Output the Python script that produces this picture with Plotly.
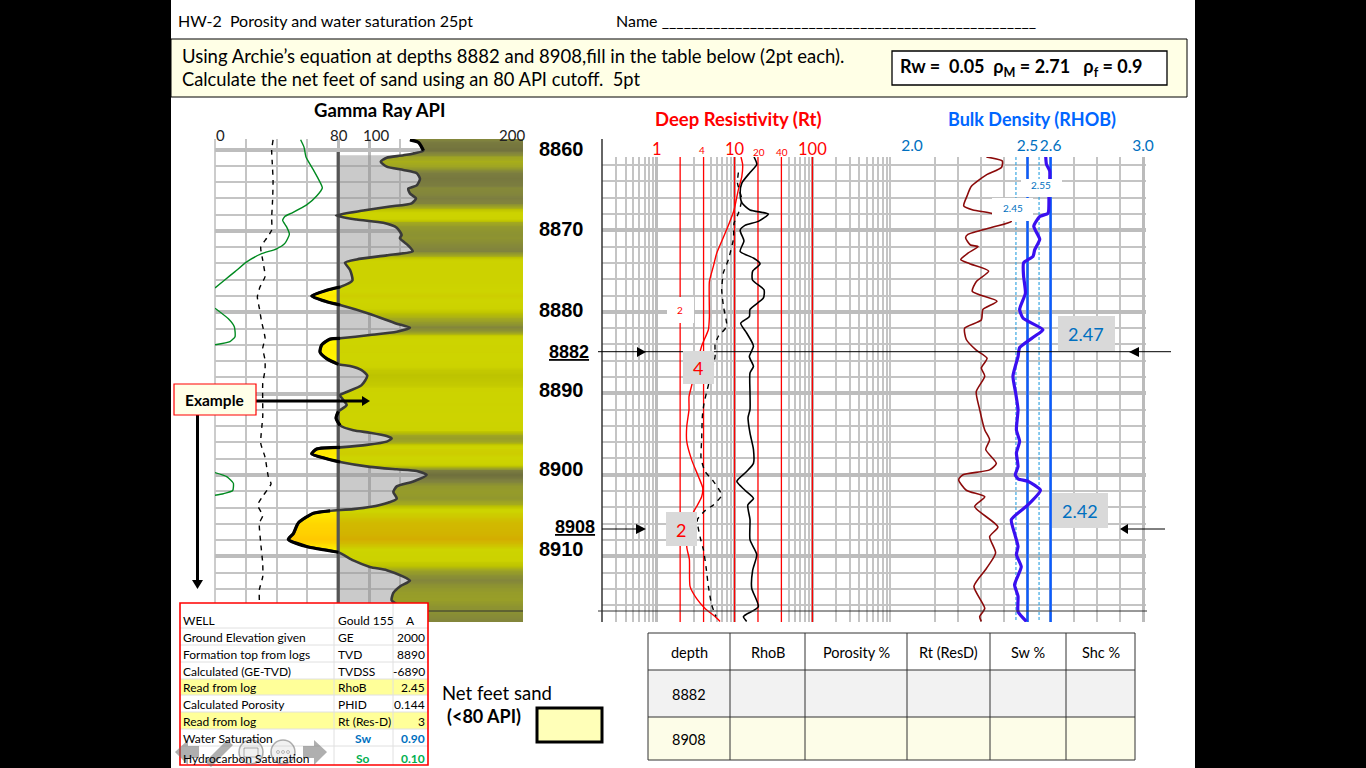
import numpy as np
import plotly.graph_objects as go

W, H = 1366, 768

# ---------- data ----------
GR_DEPTH = [8858.8,8859.1,8860.1,8860.7,8861.0,8861.5,8862.1,8862.5,8862.9,8863.6,8864.4,8864.8,8865.4,8866.0,8866.6,8867.0,8867.5,8868.1,8868.6,8869.0,8869.6,8870.5,8870.9,8871.8,8872.5,8873.0,8873.5,8873.9,8874.8,8876.1,8876.9,8877.3,8878.0,8878.7,8879.1,8880.2,8881.4,8881.9,8882.4,8882.8,8883.2,8883.3,8884.0,8884.9,8885.7,8886.4,8886.6,8887.1,8887.8,8888.95,8889.8,8890.2,8891.4,8892.2,8893.0,8893.9,8894.5,8894.8,8895.2,8895.5,8895.9,8896.3,8896.6,8896.8,8897.4,8898.0,8898.4,8899.0,8899.3,8899.5,8900.0,8900.8,8901.4,8902.1,8902.9,8903.7,8904.2,8904.4,8904.7,8905.9,8907.2,8907.9,8908.8,8909.5,8910.5,8911.3,8911.7,8912.5,8913.0,8913.7,8914.5,8915.4,8916.2,8917.0,8917.9]
GR_API = [126.6,132,135.3,122.3,111.5,107.6,111.5,122.3,131,133.1,131,125.5,126.6,130.5,127.7,113.6,96.3,78.6,92,109.3,118,121.2,120.1,125.5,128.4,111.5,92,84.4,87.7,89.2,81.2,72.5,62.8,72.5,81.2,100.6,118,126.6,118,100.6,81.2,74.7,69.3,68.2,72.5,80.1,87.7,95.2,98.9,95.2,85.5,81.2,85.5,80.1,78.6,81.2,89.8,100.6,111.5,114.7,111.5,98.5,81.2,66,62.8,72.5,81.2,100.6,118,131,137.4,128.8,118,115.8,118,107.1,89.8,74.7,63.9,54.1,50.9,47.6,59.5,80.1,89.8,100.6,111.5,122.3,126.6,120.1,115.8,114.7,120.1,122.3,126.6]

SP_DEPTH = [8858.8,8859.7,8860.9,8862.5,8863.6,8864.7,8865.7,8866.8,8867.8,8868.2,8868.7,8869.5,8870.4,8871.5,8872.2,8872.8,8873.8,8875.0,8876.0,8877.0,None,8879.5,8880.8,8881.8,8883.0,8883.6,8884.0,None,8899.7,8900.2,8901.0,8901.9,8902.3,8902.5]
SP_VAL = [55.6,57.8,59.1,63.9,67.1,69.7,66,59.5,49.8,45.5,43.9,46.5,48.3,45.5,40,30.3,20.6,13,6.5,0,None,0,8.7,12.6,13,9.7,0,None,0,7.6,11.9,11.5,5.4,0]

CAL_DEPTH = [8858.8,8860.1,8861.7,8863.8,8866.2,8868.3,8869.9,8870.9,8872.0,8873.6,8875.6,8876.9,8878.1,8879.5,8881,8883.2,8884.4,8885.9,8887.1,8888.75,8892.8,8896.1,8897.8,8900.2,8901.1,8902.5,8903.7,8905,8905.9,8908.4,8910.9,8912.5,8914.1,8915.4]
CAL_VAL = [37.7,36.8,37.2,37.7,37.4,36.8,36.8,33.5,29.7,31,32.5,29.2,27.5,28.8,30.1,32.5,31,32.5,32.5,31,31,29.7,32.5,34.6,36.4,31.4,27.7,31,28.8,29.7,31,31,28.8,28.8]

RT_DEEP_DEPTH = [8861.0,8861.9,8862.9,8864.2,8865.4,8866.6,8867.5,8868.0,8868.9,8869.4,8870.0,8871.3,8872.6,8873.4,8874.1,8875.0,8876.1,8877.3,8878.3,8879.7,8880.6,8881.4,8882.6,8884.2,8885.5,8886.7,8887.5,8890.0,8892.0,8893.0,8894.9,8896.9,8898.6,8899.6,8900.8,8901.9,8902.9,8903.7,8905.5,8908,8909.8,8911.7,8913.9,8916.2,8917.4,8918.0]
RT_DEEP = [17.8,19.3,15.8,12.4,11.8,12.4,15.8,27.2,20.2,13.6,11.8,13.2,11.8,17.5,21.3,17.1,17.0,23.9,23.5,15.8,15.5,12.0,14.3,17.5,15.5,17.5,15.8,15.8,15.8,14.9,15.8,17.5,17.5,14.3,10.7,13.6,17.5,14.8,15.8,15.8,19.3,17.1,16.6,20.2,13.0,14.3]

RT_RED_DEPTH = [8861.0,8861.9,8863.4,8865.0,8867.5,8869.9,8872.8,8874.4,8876.3,8880.6,8882.2,8884.2,8889.0,8890.4,8892.0,8894.1,8895.9,8898.2,8900.2,8901.6,8902.7,8903.9,8904.6,8908.8,8910.4,8913.7,8915.2,8916.4,8917.4,8918.0]
RT_RED = [12.1,12.7,12.4,11.2,9.86,7.93,5.90,5.35,4.75,4.75,4.61,3.78,2.82,2.60,2.60,2.43,2.43,2.82,3.43,3.90,3.78,3.26,2.96,2.43,2.63,2.68,3.26,4.18,5.62,6.51]

RT_DASH_DEPTH = [8862.9,8864.2,8866.2,8867.9,8869.1,8871.1,8873.6,8875.2,8877.3,8879.3,8881.8,8883.0,8884.0,8885.5,8891.2,8892.8,8895.7,8898.0,8899.6,8900.8,8902.5,8903.7,8904.4,8905.5,8907.6,8909.2,8911.3,8913.7,8916.0,8917.4]
RT_DASH = [11.2,10.9,12.4,11.2,9.86,9.66,8.33,7.19,6.84,7.19,7.93,6.2,5.62,5.62,4.06,3.86,3.78,3.71,4.18,5.35,6.84,5.35,4.18,3.33,3.6,3.98,4.3,4.61,5.09,5.79]

RHOB_DEPTH = [8861.0,8861.9,8862.7,8865.8,8867.9,8868.3,8869.5,8871.1,8872.4,8873.2,8874.0,8875.6,8877.7,8879.7,8880.8,8882.2,8883.0,8884.4,8885.5,8887.9,8890.0,8892.0,8894.5,8895.9,8897.3,8899.0,8900.0,8900.5,8900.8,8901.9,8903.7,8905.5,8907.2,8908.8,8909.8,8911.3,8913.5,8914.9,8916.8,8918.0]
RHOB = [2.579,2.582,2.596,2.593,2.589,2.553,2.527,2.553,2.531,2.524,2.483,2.483,2.491,2.466,2.481,2.567,2.531,2.466,2.459,2.437,2.449,2.459,2.452,2.466,2.452,2.459,2.447,2.459,2.502,2.556,2.502,2.43,2.444,2.459,2.452,2.473,2.444,2.459,2.459,2.495]

PHI_DEPTH = [8861.0,8861.5,8862.3,8863.2,8864.6,8865.8,8867.0,8867.5,8867.9,8868.9,8869.6,8870.5,8870.9,8871.8,8872.0,8872.8,8873.6,8874.1,8875.0,8876.3,8877.5,8878.7,8879.7,8881.0,8882.0,8883.4,8884.7,8885.7,8886.9,8887.9,8889.8,8892.0,8894.5,8895.7,8896.9,8898.6,8899.4,8900.0,8900.6,8901.9,8902.7,8903.9,8906.4,8907.6,8909.6,8911.5,8913.7,8916.4,8917.4,8918.0]
PHI = [2.322,2.391,2.387,2.322,2.257,2.238,2.224,2.264,2.343,2.43,2.351,2.242,2.232,2.253,2.286,2.242,2.211,2.25,2.332,2.278,2.261,2.368,2.307,2.3,2.228,2.235,2.278,2.325,2.3,2.315,2.278,2.293,2.315,2.336,2.319,2.365,2.336,2.221,2.202,2.235,2.315,2.271,2.372,2.336,2.362,2.322,2.268,2.315,2.293,2.3]

GR_LABELS = [0, 80, 100, 200]
GR_LABEL_CENTRES = [220, 339, 376, 512]
GR_GRID = [20, 40, 60, 120, 140, 160, 180]
RES_LABELS = [1, 10, 100]
RES_GRID = [0.3,0.4,0.5,0.6,0.7,0.8,0.9,3,5,6,7,8,9,50,60,70,80,90,200,300,400,500,600,700,800,900,1000]
RES_GUIDES = [2, 4, 10, 20, 40, 100]
RHO_LABELS = [2.0, 2.5, 2.6, 3.0]
RHO_GRID = [2.1,2.2,2.3,2.4,2.5,2.6,2.7,2.8,2.9]
RHO_SOLID = [2.5, 2.6]
RHO_DASHED = [2.45, 2.55]
CUTOFF = 80

DEPTH_LABELS = [("8860",149),("8870",229),("8880",310),("8890",390),("8900",469),("8910",549)]
Q_HEAD = ["depth","RhoB","Porosity %","Rt (ResD)","Sw %","Shc %"]
Q_ROWS = ["8882","8908"]
WELL_ROWS = [("WELL","Gould 155","A"),("Ground Elevation given","GE","2000"),("Formation top from logs","TVD","8890"),
             ("Calculated (GE-TVD)","TVDSS","-6890"),("Read from log","RhoB","2.45"),("Calculated Porosity","PHID","0.144"),
             ("Read from log","Rt (Res-D)","3"),("Water Saturation","Sw","0.90"),("Hydrocarbon Saturation","So","0.10")]

# ---------- helpers ----------
FONT = "Lato"
def px(x): return x / W
def py(y): return 1 - y / H
shapes, annos = [], []
def rect(x0, y0, x1, y1, fill=None, line=None, lw=1, layer="above"):
    shapes.append(dict(type="rect", xref="paper", yref="paper", x0=px(x0), x1=px(x1), y0=py(y0), y1=py(y1),
                       fillcolor=fill or "rgba(0,0,0,0)", line=dict(color=line or "rgba(0,0,0,0)", width=lw if line else 0), layer=layer))
def seg(x0, y0, x1, y1, color="black", lw=1, layer="above"):
    shapes.append(dict(type="line", xref="paper", yref="paper", x0=px(x0), x1=px(x1), y0=py(y0), y1=py(y1),
                       line=dict(color=color, width=lw), layer=layer))
def poly(pts, fill="black", line=None, lw=0):
    path = "M " + " L ".join(f"{px(a):.5f},{py(b):.5f}" for a, b in pts) + " Z"
    shapes.append(dict(type="path", xref="paper", yref="paper", path=path, fillcolor=fill,
                       line=dict(color=line or "rgba(0,0,0,0)", width=lw), layer="above"))
def text(s, x, y, size=14, color="black", bold=False, anchor="left", family=FONT):
    annos.append(dict(text=f"<b>{s}</b>" if bold else s, x=px(x), y=py(y), xref="paper", yref="paper", showarrow=False,
                      xanchor=anchor, yanchor="middle", font=dict(size=size, color=color, family=family),
                      borderpad=0, align=anchor))

# ---------- slide furniture ----------
rect(171, 0, 1195, 768, "white", layer="below")
text("HW-2  Porosity and water saturation 25pt", 177, 20.5, 16)
text("Name " + "_" * 51, 615, 20.5, 16)
rect(171, 39, 1187, 97, "#ffffe6", "black", 1, "below")
text("Using Archie\u2019s equation at depths 8882 and 8908,fill in the table below (2pt each).", 181, 56, 18.5)
text("Calculate the net feet of sand using an 80 API cutoff.  5pt", 181, 79, 18.3)
rect(892, 51, 1167, 85, "white", "black", 1.3, "below")
text("Rw =  0.05  \u03c1<sub>M</sub> = 2.71   \u03c1<sub>f</sub> = 0.9", 1021, 68, 18, bold=True, anchor="center")
text("Gamma Ray API", 380, 110, 18.5, bold=True, anchor="center")
text("Deep Resistivity (Rt)", 738, 119, 18.5, "#ff0000", True, "center")
text("Bulk Density (RHOB)", 1032, 119, 18, "#0066ff", True, "center")
for v, c in zip(GR_LABELS, GR_LABEL_CENTRES):
    text(str(v), c, 135, 15, "#222222", anchor="center")

for s, y in DEPTH_LABELS:
    text(s, 561, y, 20, bold=True, anchor="center", family="Liberation Sans")
text("<u>8882</u>", 569, 352, 18, bold=True, anchor="center", family="Liberation Sans")
text("<u>8908</u>", 575, 527, 18, bold=True, anchor="center", family="Liberation Sans")

# axis stubs and pointers
seg(215, 139, 215, 622, "#bbbbbb", 1.5, "below")
seg(602, 139, 602, 622, "#333333", 1.5)
seg(215, 611, 523, 611, "#333333", 1)
seg(598, 611, 1147, 611, "#333333", 1)
seg(598, 351.7, 1171, 351.7, "black", 1)
seg(602, 529, 640, 529, "black", 1)
seg(1165, 529, 1125, 529, "black", 1)
poly([(637, 347), (637, 357), (646, 352)])
poly([(1139, 347), (1139, 357), (1129, 352)])
poly([(636, 524), (636, 534), (646, 529)])
poly([(1128, 524), (1128, 534), (1120, 529)])

# grey value call-outs and white masks
rect(667, 297, 694, 323, "white")
text("2", 680, 310, 10, "#ff0000", anchor="center")
rect(1021, 179, 1062, 197, "white")
text("2.55", 1041, 185, 10, "#0070c0", anchor="center")
rect(992, 198, 1033, 221, "white")
text("2.45", 1013, 208, 10, "#0070c0", anchor="center")
rect(683, 351, 714, 384, "#d9d9d9")
text("4", 698, 368, 18, "#ff0000", anchor="center")
rect(666, 512, 697, 546, "#d9d9d9")
text("2", 681, 530, 18, "#ff0000", anchor="center")
rect(1058, 316, 1115, 351, "#d9d9d9")
text("2.47", 1086, 334, 18, "#0070c0", anchor="center")
rect(1052, 493, 1108, 528, "#d9d9d9")
text("2.42", 1080, 511, 18, "#0070c0", anchor="center")

# Example call-out
seg(256, 401, 362, 401, "black", 3)
poly([(362, 396), (362, 406), (370, 401)])
seg(197.5, 415, 197.5, 580, "black", 3)
poly([(192, 580), (203, 580), (197.5, 589)])
rect(174, 384, 256, 415, "#ffffe8", "#ff0000", 1.2)
text("Example", 214, 400, 15.5, bold=True, anchor="center")

# question table
qx = [648, 730, 805, 907, 990, 1066, 1135]
qy = [633, 670, 717, 760]
rect(qx[0], qy[0], qx[-1], qy[1], "white", layer="below")
rect(qx[0], qy[1], qx[-1], qy[2], "#f2f2f2", layer="below")
rect(qx[0], qy[2], qx[-1], qy[3], "#fdfde8", layer="below")
for v in qx: seg(v, qy[0], v, qy[-1], "#333333", 1, "below")
for v in qy: seg(qx[0], v, qx[-1], v, "#333333", 1, "below")
for i, s in enumerate(Q_HEAD):
    text(s, (qx[i] + qx[i + 1]) / 2, 652, 14.5, anchor="center")
for s, y in zip(Q_ROWS, [694, 739]):
    text(s, 689, y, 14.5, anchor="center")

# net feet
text("Net feet sand", 441, 693, 18.5)
text("(&lt;80 API)", 446, 716, 18, bold=True)
rect(537, 708, 602, 742, "#ffffb8", "black", 3, "below")

# well table
wy = [603, 628, 645, 662, 679, 695, 712, 729, 746, 765]
rect(180, 603, 428, 765, "white")
rect(181, wy[4], 427, wy[5], "#ffff99")
rect(181, wy[6], 427, wy[7], "#ffff99")
for v in wy[1:-1]: seg(180, v, 428, v, "#e0e0e0", 1)
for v in (334, 393): seg(v, 603, v, 765, "#e0e0e0", 1)
rect(180, 603, 428, 765, None, "#ff0000", 1.6)
wc = [620, 637, 654, 671, 687, 704, 721, 738, 758]
for i, (a, b, c) in enumerate(WELL_ROWS):
    text(a, 182, wc[i], 12)
    if b == "Sw":
        text(b, 363, wc[i], 12, "#0070c0", True, "center")
        text(c, 426, wc[i], 12, "#0070c0", True, "right")
    elif b == "So":
        text(b, 363, wc[i], 12, "#00b050", True, "center")
        text(c, 426, wc[i], 12, "#00b050", True, "right")
    else:
        text(b, 337, wc[i], 12)
        text(c, 410 if c == "A" else 426, wc[i], 12, anchor="center" if c == "A" else "right")

# player overlay icons
G = "rgba(110,110,110,0.55)"
poly([(175, 752), (188, 740), (188, 746), (199, 746), (199, 758), (188, 758), (188, 765)], G)
poly([(205, 762), (227, 740), (233, 745), (211, 767)], G)
poly([(303, 746), (314, 746), (314, 740), (327, 752), (314, 765), (314, 758), (303, 758)], G)
for cx in (251, 283):
    shapes.append(dict(type="circle", xref="paper", yref="paper", x0=px(cx - 12), x1=px(cx + 12), y0=py(740), y1=py(764),
                       line=dict(color=G, width=1.5), fillcolor="rgba(200,200,200,0.25)", layer="above"))
rect(244, 748, 258, 757, None, G, 1)
for dx in (-5, 0, 5):
    shapes.append(dict(type="circle", xref="paper", yref="paper", x0=px(283 + dx - 1.5), x1=px(283 + dx + 1.5), y0=py(750.5), y1=py(753.5),
                       line=dict(color=G, width=0.8), fillcolor="rgba(0,0,0,0)", layer="above"))

# ---------- traces ----------
GR_TOP, GR_BOT = 8858.7, 8918.07
RES_TOP = 8861.0
gd = np.array(GR_DEPTH); ga = np.array(GR_API)
rows = np.arange(GR_TOP, GR_BOT + 0.1, 0.1)
row_gr = np.interp(rows, gd, ga)
xs_hi = np.arange(80, 201, 1.0)
xs_lo = np.arange(44, 81, 1.0)
z_hi = np.array([[g if x >= max(g, CUTOFF) else np.nan for x in xs_hi] for g in row_gr])
z_lo = np.array([[g if (g <= x <= CUTOFF) else np.nan for x in xs_lo] for g in row_gr])

HI_SCALE = [[0, "#d4ac00"], [0.09, "#d0bc00"], [0.165, "#cdcc00"], [0.25, "#cdd400"], [0.47, "#ccd200"],
            [0.58, "#bcc200"], [0.69, "#a2a820"], [0.80, "#8e9430"], [0.91, "#7e8040"], [1, "#6c6c3c"]]
LO_SCALE = [[0, "#ffc800"], [0.4, "#ffe400"], [1, "#ffff00"]]
traces = []
traces.append(go.Heatmap(x=xs_hi, y=rows, z=z_hi, zmin=47, zmax=138, colorscale=HI_SCALE, showscale=False, hoverinfo="skip", xaxis="x", yaxis="y"))
traces.append(go.Heatmap(x=xs_lo, y=rows, z=z_lo, zmin=47, zmax=80, colorscale=LO_SCALE, showscale=False, hoverinfo="skip", xaxis="x", yaxis="y"))

gray = gd >= 8860.3
fx = np.maximum(ga[gray], CUTOFF)
traces.append(go.Scatter(x=np.r_[CUTOFF, fx, CUTOFF], y=np.r_[gd[gray][0], gd[gray], gd[gray][-1]], mode="lines", fill="toself",
                         fillcolor="rgba(150,150,150,0.5)", line=dict(width=0), hoverinfo="skip", xaxis="x", yaxis="y"))
traces.append(go.Scatter(x=[CUTOFF, CUTOFF], y=[8860.3, GR_BOT], mode="lines", line=dict(color="#555555", width=3.2), xaxis="x", yaxis="y"))
traces.append(go.Scatter(x=SP_VAL, y=SP_DEPTH, mode="lines", line=dict(color="#008a20", width=1.4, shape="spline", smoothing=0.5), xaxis="x", yaxis="y"))
traces.append(go.Scatter(x=CAL_VAL, y=CAL_DEPTH, mode="lines", line=dict(color="black", width=1.4, dash="5px,5px", shape="spline", smoothing=0.5), xaxis="x", yaxis="y"))
traces.append(go.Scatter(x=ga, y=gd, mode="lines", line=dict(color="#3a3a3a", width=2.6, shape="spline", smoothing=0.6), xaxis="x", yaxis="y"))
lowmask = (ga <= 82) | (gd < 8860.5)
traces.append(go.Scatter(x=np.where(lowmask, ga, np.nan), y=gd, mode="lines", line=dict(color="black", width=3.2, shape="spline", smoothing=0.6), connectgaps=False, xaxis="x", yaxis="y"))

for v in RES_GUIDES:
    traces.append(go.Scatter(x=[v, v], y=[RES_TOP, GR_BOT], mode="lines", line=dict(color="#ff0000", width=1.3), xaxis="x2", yaxis="y2"))
traces.append(go.Scatter(x=RT_RED, y=RT_RED_DEPTH, mode="lines", line=dict(color="#ff0000", width=1.4, shape="spline", smoothing=0.5), xaxis="x2", yaxis="y2"))
traces.append(go.Scatter(x=RT_DASH, y=RT_DASH_DEPTH, mode="lines", line=dict(color="black", width=1.4, dash="5px,5px", shape="spline", smoothing=0.5), xaxis="x2", yaxis="y2"))
traces.append(go.Scatter(x=RT_DEEP, y=RT_DEEP_DEPTH, mode="lines", line=dict(color="black", width=1.6, shape="spline", smoothing=0.6), xaxis="x2", yaxis="y2"))

for v in RHO_DASHED:
    traces.append(go.Scatter(x=[v, v], y=[RES_TOP, GR_BOT], mode="lines", line=dict(color="#2aa0e0", width=1.1, dash="3px,2px"), xaxis="x3", yaxis="y3"))
for v in RHO_SOLID:
    traces.append(go.Scatter(x=[v, v], y=[RES_TOP, GR_BOT], mode="lines", line=dict(color="#0a5cff", width=2.4), xaxis="x3", yaxis="y3"))
traces.append(go.Scatter(x=PHI, y=PHI_DEPTH, mode="lines", line=dict(color="#8b0a0a", width=1.6, shape="spline", smoothing=0.6), xaxis="x3", yaxis="y3"))
traces.append(go.Scatter(x=RHOB, y=RHOB_DEPTH, mode="lines", line=dict(color="#3a0ff0", width=3.2, shape="spline", smoothing=0.5), xaxis="x3", yaxis="y3"))

text("4", 702, 150, 10, "#ff0000", anchor="center")
text("20", 759, 152, 10, "#ff0000", anchor="center")
text("40", 782, 152, 10, "#ff0000", anchor="center")

GRID = "#c4c4c4"
def yaxis(dom_top, top):
    return dict(domain=[py(622), py(dom_top)], range=[GR_BOT, top], showticklabels=False, ticks="", zeroline=False,
                tickmode="linear", tick0=8860, dtick=10, showgrid=True, gridcolor="#bdbdbd", gridwidth=3.5,
                minor=dict(tickmode="linear", tick0=8860, dtick=2, showgrid=True, gridcolor=GRID, gridwidth=2, ticks=""), layer="below traces")
def xaxis(dom, rng, yref, vals, labels, minor, color, size, type_="linear", standoff=0, show=True):
    return dict(domain=[px(dom[0]), px(dom[1])], range=rng, type=type_, side="top", anchor=yref, tickmode="array", tickvals=vals, ticktext=labels,
                showgrid=True, gridcolor="#bbbbbb", gridwidth=3, zeroline=False, ticks="", ticklabelstandoff=standoff, tickangle=0, showticklabels=show,
                tickfont=dict(size=size, color=color, family=FONT),
                minor=dict(tickmode="array", tickvals=minor, showgrid=True, gridcolor=GRID, gridwidth=2, ticks=""))

layout = dict(
    width=W, height=H, margin=dict(l=0, r=0, t=0, b=0, autoexpand=False), autosize=False, showlegend=False,
    paper_bgcolor="black", plot_bgcolor="white", shapes=shapes, annotations=annos, hovermode=False,
    xaxis=xaxis((215, 523), [0, 200], "y", GR_LABELS, [str(v) for v in GR_LABELS], GR_GRID, "#222222", 15, "linear", 0, False),
    yaxis=yaxis(139, GR_TOP),
    xaxis2=xaxis((602, 912), [-0.703, 3.28], "y2", RES_LABELS, [str(v) for v in RES_LABELS], RES_GRID, "#ff0000", 16.5, "log", -2),
    yaxis2=yaxis(157, RES_TOP),
    xaxis3=xaxis((912, 1146), [2.0, 3.013], "y3", RHO_LABELS, [f"{v:.1f}" for v in RHO_LABELS], RHO_GRID, "#0070c0", 15.5, "linear", 2),
    yaxis3=yaxis(157, RES_TOP),
)
fig = go.Figure(data=traces, layout=layout)
fig.write_html("out.html", config={"displayModeBar": False},
               post_script="document.body.style.margin='0';document.body.style.overflow='hidden';document.body.style.background='black';")
